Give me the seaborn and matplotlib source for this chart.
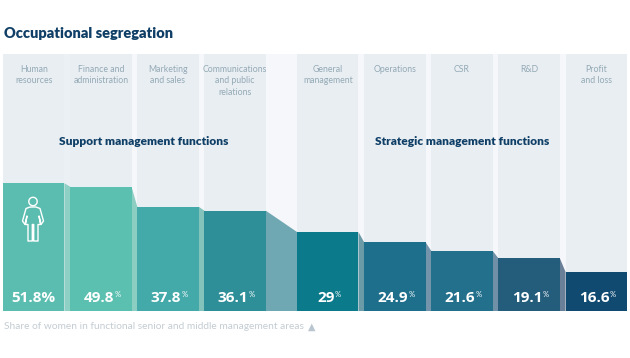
import matplotlib
matplotlib.use('Agg')
import matplotlib.pyplot as plt
from matplotlib.patches import PathPatch
from matplotlib.path import Path
import numpy as np
import pandas as pd
import seaborn as sns

# ---- data ----
areas = ['Human\nresources', 'Finance and\nadministration', 'Marketing\nand sales',
         'Communications\nand public\nrelations', 'General\nmanagement', 'Operations',
         'CSR', 'R&D', 'Profit\nand loss']
shares = [51.8, 49.8, 37.8, 36.1, 29, 24.9, 21.6, 19.1, 16.6]
# the bars in the original are not to scale, so heights are read off separately
drawn_heights = [127.7, 124.3, 104.3, 100.3, 79, 68.7, 60, 52.7, 39]
slots = [0, 1, 2, 3, 4.38, 5.38, 6.38, 7.38, 8.38]
bar_colors = ['#5bbdb0', '#5bc0b0', '#44a9a9', '#2f8f99', '#0b7a8a',
              '#1e6f8b', '#22708c', '#245c7c', '#104a70']
link_colors = ['#8fd0c4', '#8ccfc2', '#84c3bb', '#6fa8b2', '#6a9ba6',
               '#7394aa', '#7090a8', '#6a7f98']

NAVY = '#0f3f66'
LABEL = '#93a9b4'
PANEL = '#e9eef3'
STRIP = '#f5f7fa'

sns.set_theme(style='white')
plt.rcParams['font.family'] = ['Lato', 'DejaVu Sans']

W, H = 630, 358
fig = plt.figure(figsize=(W / 100, H / 100), dpi=100, facecolor='white')
# axes covers the whole panel block, 1 y unit = 1 pixel
ax = fig.add_axes([3 / W, 1 - 311 / H, 624 / W, 257 / H], facecolor=STRIP)

df = pd.DataFrame({'slot': slots, 'height': drawn_heights, 'area': areas})
panel_top = 257

# background columns
sns.barplot(x=df['slot'], y=[panel_top] * len(df), native_scale=True, width=0.915,
            color=PANEL, saturation=1, ax=ax, zorder=1)
n_panels = len(ax.patches)
# value columns
sns.barplot(data=df, x='slot', y='height', hue='area', palette=bar_colors, native_scale=True,
            width=0.915, saturation=1, dodge=False, legend=False, ax=ax, zorder=3)
for p in ax.patches:
    p.set_edgecolor('none')
    p.set_linewidth(0)
bars = sorted(ax.patches[n_panels:], key=lambda p: p.get_x())

half = bars[0].get_width() / 2
ax.set_xlim(slots[0] - half, slots[-1] + half)
ax.set_ylim(0, panel_top)
ax.set_xlabel('')
ax.set_ylabel('')
ax.set_xticks([])
ax.set_yticks([])
sns.despine(ax=ax, left=True, bottom=True)

# the first gap is nearly the panel colour
ax.axvspan(bars[0].get_x() + bars[0].get_width(), bars[1].get_x(), color='#ebf0f4', lw=0, zorder=1)

# sloped links between neighbouring columns
for left, right, c in zip(bars[:-1], bars[1:], link_colors):
    x0 = left.get_x() + left.get_width()
    x1 = right.get_x()
    ax.fill_between([x0, x1], [0, 0], [left.get_height(), right.get_height()],
                    facecolor=c, edgecolor='none', lw=0, zorder=2)

for bar, area, share in zip(bars, areas, shares):
    cx = bar.get_x() + bar.get_width() / 2
    ax.text(cx, panel_top - 11, area, ha='center', va='top', color=LABEL, fontsize=6.3,
            linespacing=1.35, zorder=5)
    first = share == shares[0]
    t = ax.text(cx - (0 if first else 0.03), 13, f'{share:g}' + ('%' if first else ''),
                ha='center', va='center', color='white', fontsize=11, fontweight='bold',
                family=['Open Sans', 'DejaVu Sans'], zorder=5)
    if not first:
        ax.annotate('%', xy=(1, 1), xycoords=t, xytext=(0.3, 0), textcoords='offset points',
                    ha='left', va='top', color='white', fontsize=5.5, zorder=5)

# group headings
ax.text(0.5 * (bars[0].get_x() + bars[3].get_x() + bars[3].get_width()) + 0.14, 170,
        'Support management functions', ha='center', va='center', color=NAVY,
        fontsize=8.6, fontweight='heavy', zorder=5)
ax.text(bars[6].get_x() + bars[6].get_width() / 2, 170, 'Strategic management functions',
        ha='center', va='center', color=NAVY, fontsize=8.6, fontweight='heavy', zorder=5)

# woman pictogram, drawn in pixels around the first column
ox, oy = 33, 207
def px(x, y):
    return (x + ox) / W, 1 - (y + oy) / H
body = [(-3, 0), (-7, 1.5), (-10.5, 14), (-8, 17.5), (-6, 9), (-7.5, 17.5), (-5, 17.5), (-5, 34),
        (-0.7, 34), (-0.7, 17.5), (0.7, 17.5), (0.7, 34), (5, 34), (5, 17.5), (7.5, 17.5), (6, 9),
        (8, 17.5), (10.5, 14), (7, 1.5), (3, 0), (-3, 0)]
fig.add_artist(PathPatch(Path([px(*p) for p in body]), transform=fig.transFigure, fill=False,
                         ec='white', lw=1.0, joinstyle='round', zorder=6))
theta = np.linspace(0, 2 * np.pi, 40)
fig.add_artist(PathPatch(Path([px(4.2 * np.cos(a), -5.5 + 4.2 * np.sin(a)) for a in theta]),
                         transform=fig.transFigure, fill=False, ec='white', lw=1.0, zorder=6))

fig.text(4 / W, 1 - 33.5 / H, 'Occupational segregation', ha='left', va='center', color=NAVY,
         fontsize=10.5, fontweight='heavy')
fig.text(4 / W, 1 - 326.5 / H, 'Share of women in functional senior and middle management areas',
         ha='left', va='center', color='#c3ccd3', fontsize=7.3)
fig.text(311.5 / W, 1 - 326.5 / H, '\u25b2', ha='center', va='center', color='#b9c6d0', fontsize=7,
         family=['DejaVu Sans'])

fig.savefig('out.png', dpi=100)
